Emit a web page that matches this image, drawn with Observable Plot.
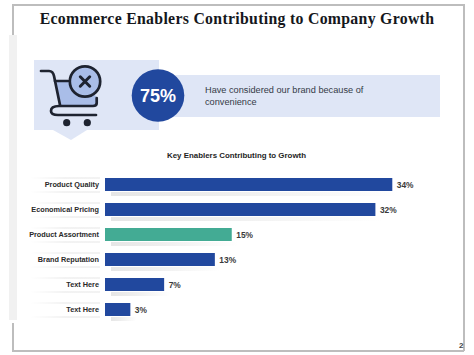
<!DOCTYPE html>
<html>
<head>
<meta charset="utf-8">
<script src="https://cdn.jsdelivr.net/npm/d3@7"></script>
<script src="https://cdn.jsdelivr.net/npm/@observablehq/plot@0.6"></script>
<style>
html,body{margin:0;padding:0;background:#fff;}
#page{position:relative;width:474px;height:355px;overflow:hidden;font-family:"Liberation Sans",Arial,sans-serif;}
.abs{position:absolute;}
#chart{position:absolute;left:0;top:0;}
#chart svg{display:block;background:transparent;}
</style>
</head>
<body>
<div id="page">
  <div class="abs" style="left:12px;top:4px;width:452px;height:1.5px;background:#bdbdbd"></div>
  <div class="abs" style="left:12px;top:4px;width:1.5px;height:32px;background:#bdbdbd"></div>
  <div class="abs" style="left:463px;top:4px;width:1.5px;height:347px;background:#bdbdbd"></div>
  <div class="abs" style="left:12px;top:350px;width:452px;height:1.5px;background:#bdbdbd"></div>
  <div class="abs" style="left:12px;top:323px;width:1.5px;height:28px;background:#bdbdbd"></div>
  <div class="abs" style="left:9px;top:35px;width:8px;height:285px;background:#f1f1f1"></div>
  <div class="abs" id="title" style="left:0;width:474px;top:9px;text-align:center;font:bold 15.8px 'Liberation Serif',serif;letter-spacing:.3px;color:#15171c;line-height:20px;white-space:nowrap">Ecommerce Enablers Contributing to Company Growth</div>

  <svg class="abs" style="left:0;top:0" width="474" height="355">
    <rect x="34" y="60" width="125" height="70" fill="#dfe6f6"/>
    <path d="M53 130H87L71 140Z" fill="#dfe6f6"/>
    <rect x="170" y="75" width="270" height="42" fill="#dfe6f6"/>
    <path d="M56 81H72L96 96V105H60Z" fill="#a9bde8"/>
    <g fill="none" stroke="#1e2330" stroke-width="2.7" stroke-linecap="round" stroke-linejoin="round">
      <path d="M41 71H49Q53 71 54 76L60 105"/>
      <path d="M55 81H68"/>
      <path d="M96.7 98V103Q96.7 106 93 106H59Q51 106 51 111Q51 115 58 115H96"/>
      <circle cx="85" cy="81.5" r="15.2" fill="#a9bde8"/>
      <path d="M80.3 76.8L89.7 86.2M89.7 76.8L80.3 86.2" stroke-width="3"/>
    </g>
    <circle cx="66.7" cy="122.7" r="3.6" fill="#1e2330"/>
    <circle cx="87.3" cy="122.7" r="3.6" fill="#1e2330"/>
    <circle cx="158" cy="95.5" r="26.3" fill="#21489e"/>
    <defs>
      <linearGradient id="shadowFade" x1="0" x2="1" y1="0" y2="0">
        <stop offset="0" stop-color="#e6e6e6"/><stop offset=".35" stop-color="#ededed"/><stop offset="1" stop-color="#ffffff"/>
      </linearGradient>
      <linearGradient id="ruleFade" gradientUnits="userSpaceOnUse" x1="30" x2="65" y1="0" y2="0">
        <stop offset="0" stop-color="#ffffff"/><stop offset="1" stop-color="#e6e6e6"/>
      </linearGradient>
    </defs>
  </svg>

  <div class="abs" style="left:131px;width:54px;top:85px;text-align:center;color:#fff;font:bold 18px/22px 'Liberation Sans',Arial,sans-serif">75%</div>
  <div class="abs" style="left:205px;top:85px;width:190px;color:#343a46;font:9.2px/11.5px 'Liberation Sans',Arial,sans-serif">Have considered our brand because of<br>convenience</div>
  <div class="abs" style="left:0;width:473px;top:150px;text-align:center;color:#1e1e1e;font:bold 7.9px/11px 'Liberation Sans',Arial,sans-serif">Key Enablers Contributing to Growth</div>
  <div id="chart"></div>
  <div class="abs" style="left:459px;top:341px;color:#444;font:bold 8px/10px 'Liberation Sans',Arial,sans-serif">2</div>
</div>
<script>
const categories = ["Product Quality","Economical Pricing","Product Assortment","Brand Reputation","Text Here","Text Here"];
const values = [34,32,15,13,7,3];
const barColors = ["#21489e","#21489e","#43ab94","#21489e","#21489e","#21489e"];
const rows = categories.map((c,i)=>({i,c,v:values[i],color:barColors[i]}));

const plot = Plot.plot({
  width:474, height:355,
  marginLeft:105, marginRight:31, marginTop:171, marginBottom:33,
  style:{background:"transparent",fontFamily:"'Liberation Sans',Arial,sans-serif",overflow:"visible"},
  x:{domain:[0,40],axis:null},
  y:{domain:rows.map(d=>d.i),paddingInner:0.5,paddingOuter:0.25,axis:null},
  marks:[
    Plot.barX(rows,{x1:0,x2:"v",y:"i",dx:6,dy:5,insetTop:9,fill:"url(#shadowFade)"}),
    Plot.ruleY(rows,{y:"i",x1:0,x2:0,insetLeft:-74,insetRight:5,dy:-7,stroke:"url(#ruleFade)",strokeWidth:1}),
    Plot.ruleY(rows,{y:"i",x1:0,x2:0,insetLeft:-74,insetRight:5,dy:7,stroke:"url(#ruleFade)",strokeWidth:1}),
    Plot.barX(rows,{x1:0,x2:"v",y:"i",fill:"color"}),
    Plot.axisY({domain:rows.map(d=>d.i),tickSize:0,tickPadding:6.5,tickFormat:i=>categories[i],fontSize:7.3,fontWeight:"bold",fill:"#2a2a2a",label:null,anchor:"left"}),
    Plot.text(rows,{x:"v",y:"i",text:d=>d.v+"%",dx:4,textAnchor:"start",fontSize:8.4,fontWeight:"bold",fill:"#3a3a3a"})
  ]
});
document.getElementById("chart").appendChild(plot);
</script>
</body>
</html>
